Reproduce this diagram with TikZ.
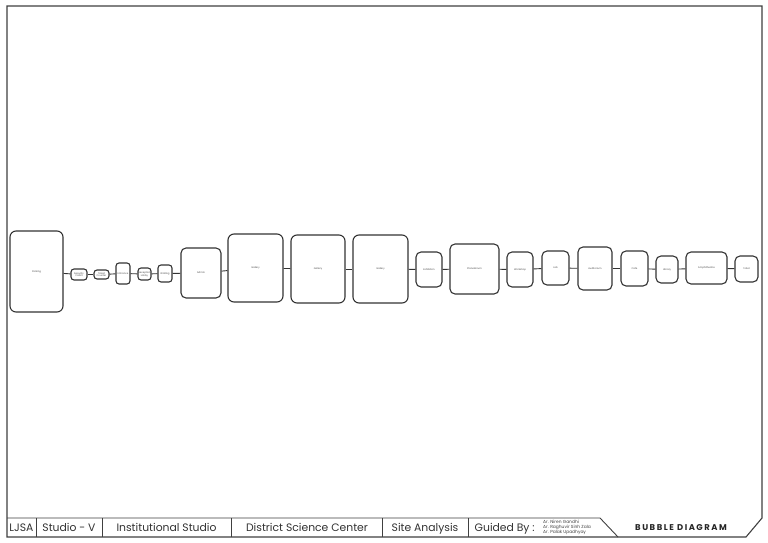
\documentclass[tikz,border=0pt]{standalone}
\usepackage{fontspec}
\setmainfont{Poppins}
\begin{document}
\begin{tikzpicture}[x=1pt,y=-1pt,
  frameline/.style={draw=black!75, line width=1.1pt},
  cellline/.style={draw=black!75, line width=0.9pt},
  box/.style={draw=black!80, line width=1.1pt, rounded corners=5pt, inner sep=0pt, align=center, font=\fontsize{2.4}{2.8}\selectfont, text=black!70},
  sbox/.style={box, rounded corners=3pt},
  link/.style={draw=black!80, line width=0.9pt},
  titletext/.style={font=\fontsize{10.8}{12}\selectfont, text=black!80, inner sep=0pt, anchor=base},
  names/.style={font=\fontsize{4.4}{4.8}\selectfont, text=black!75, inner sep=0pt, align=left, anchor=west}
]
\useasboundingbox (0,0) rectangle (768,543);
\fill[white] (0,0) rectangle (768,543);
% outer frame
\draw[frameline] (7,537) -- (7,6) -- (762,6) -- (762,518) -- (746,537) -- cycle;
% title row
\draw[cellline] (7,518) -- (600,518) -- (618,537);
\foreach \xx in {36,102,231,382,468} \draw[cellline] (\xx,518) -- (\xx,537);
\node[titletext] (t1) at (21.5,531.5) {LJSA};
\node[titletext] (t2) at (69,531.5) {Studio - V};
\node[titletext] (t3) at (166.5,531.5) {Institutional Studio};
\node[titletext] (t4) at (307,531.5) {District Science Center};
\node[titletext] (t5) at (425,531.5) {Site Analysis};
\node[titletext, anchor=base west] (t6) at (474.5,531.5) {Guided By :};
\node[names] (t7) at (543,527.5) {Ar. Niren Gandhi\\Ar. Raghuvir Sinh Zala\\Ar. Palak Upadhyay};
\node[font=\fontsize{8.4}{9}\selectfont\bfseries\addfontfeature{LetterSpace=18}, text=black!85, inner sep=0pt, anchor=base] (t8) at (681,530.5) {BUBBLE DIAGRAM};
% bubbles
\node[box, minimum width=53pt, minimum height=81pt, rounded corners=6pt] (park) at (36.5,271.5) {Parking};
\node[sbox, minimum width=16pt, minimum height=11pt] (sec) at (79,274.5) {Security\\Cabin};
\node[sbox, minimum width=15pt, minimum height=9pt] (tic) at (101.5,274.5) {Ticket\\Counter};
\node[sbox, minimum width=14pt, minimum height=21pt] (ent) at (123,273.5) {Entrance};
\node[sbox, minimum width=13pt, minimum height=12pt] (rec) at (144.5,274) {Reception\\Lobby};
\node[sbox, minimum width=14pt, minimum height=17pt] (wait) at (165,273.5) {Waiting};
\node[box, minimum width=40pt, minimum height=50pt] (admin) at (201,273) {Admin};
\node[box, minimum width=55pt, minimum height=68pt, rounded corners=6pt] (g1) at (255.5,268) {Gallery};
\node[box, minimum width=54pt, minimum height=68pt, rounded corners=6pt] (g2) at (318,269) {Gallery};
\node[box, minimum width=55pt, minimum height=68pt, rounded corners=6pt] (g3) at (380.5,269) {Gallery};
\node[box, minimum width=26pt, minimum height=35pt] (exh) at (429,269.5) {Exhibition};
\node[box, minimum width=49pt, minimum height=50pt] (plan) at (474.5,269) {Planetarium};
\node[box, minimum width=26pt, minimum height=35pt] (work) at (520,269.5) {Workshop};
\node[box, minimum width=27pt, minimum height=34pt] (lab) at (555.5,268) {Lab};
\node[box, minimum width=34pt, minimum height=43pt] (aud) at (595,268.5) {Auditorium};
\node[box, minimum width=27pt, minimum height=35pt] (cafe) at (634.5,268.5) {Cafe};
\node[box, minimum width=22pt, minimum height=27pt] (lib) at (667,269.5) {Library};
\node[box, minimum width=41pt, minimum height=32pt] (amph) at (706.5,268) {Amphitheatre};
\node[box, minimum width=23pt, minimum height=26pt] (toil) at (746.5,269) {Toilet};
% connectors
\foreach \a/\b in {park/sec,sec/tic,tic/ent,ent/rec,rec/wait,wait/admin,admin/g1,g1/g2,g2/g3,g3/exh,exh/plan,plan/work,work/lab,lab/aud,aud/cafe,cafe/lib,lib/amph,amph/toil}
  \draw[link] (\a) -- (\b);
\end{tikzpicture}
\end{document}
